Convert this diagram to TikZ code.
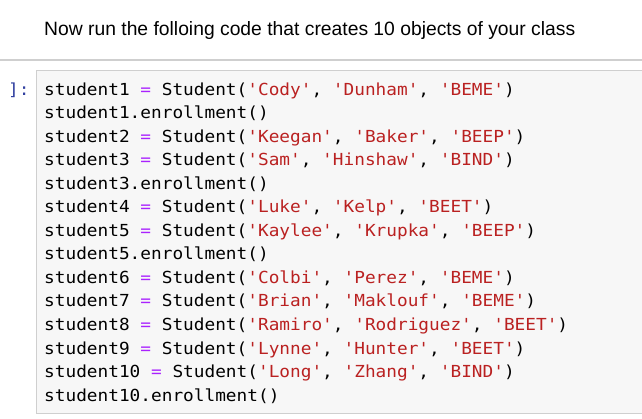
\documentclass[tikz,border=0pt]{standalone}
\usepackage{fontspec}
\setmainfont{Liberation Sans}
\newfontfamily\codefont[FakeStretch=1.07]{DejaVu Sans Mono}
\definecolor{opc}{HTML}{AA22FF}
\definecolor{strc}{HTML}{BA2121}
\definecolor{promptc}{HTML}{303F9F}
\definecolor{boxbg}{HTML}{F7F7F7}
\definecolor{boxbd}{HTML}{CFCFCF}
\newcommand{\eq}{\textcolor{opc}{=}}
\newcommand{\s}[1]{\textcolor{strc}{'#1'}}
\begin{document}
\begin{tikzpicture}[x=1pt,y=-1pt,
  codeline/.style={anchor=base west,inner sep=0,font=\codefont\fontsize{16.6}{20}\selectfont}]
\useasboundingbox (0,0) rectangle (642,418);
\node[anchor=base west,inner sep=0,font=\fontsize{19.3}{23}\selectfont] (hdr) at (44,35) {Now run the folloing code that creates 10 objects of your class};
\draw[color=boxbd,line width=1.2pt] (0,60) -- (642,60);
\draw[color=boxbd,fill=boxbg] (36,70) rectangle (645,413);
\node[codeline,text=promptc] (pr) at (8,95) {]:};
\foreach \i/\t in {
 0/{student1 \eq{} Student(\s{Cody}, \s{Dunham}, \s{BEME})},
 1/{student1.enrollment()},
 2/{student2 \eq{} Student(\s{Keegan}, \s{Baker}, \s{BEEP})},
 3/{student3 \eq{} Student(\s{Sam}, \s{Hinshaw}, \s{BIND})},
 4/{student3.enrollment()},
 5/{student4 \eq{} Student(\s{Luke}, \s{Kelp}, \s{BEET})},
 6/{student5 \eq{} Student(\s{Kaylee}, \s{Krupka}, \s{BEEP})},
 7/{student5.enrollment()},
 8/{student6 \eq{} Student(\s{Colbi}, \s{Perez}, \s{BEME})},
 9/{student7 \eq{} Student(\s{Brian}, \s{Maklouf}, \s{BEME})},
 10/{student8 \eq{} Student(\s{Ramiro}, \s{Rodriguez}, \s{BEET})},
 11/{student9 \eq{} Student(\s{Lynne}, \s{Hunter}, \s{BEET})},
 12/{student10 \eq{} Student(\s{Long}, \s{Zhang}, \s{BIND})},
 13/{student10.enrollment()}}
 \node[codeline] (l\i) at (44,95+23.55*\i) {\t};
\end{tikzpicture}
\end{document}
